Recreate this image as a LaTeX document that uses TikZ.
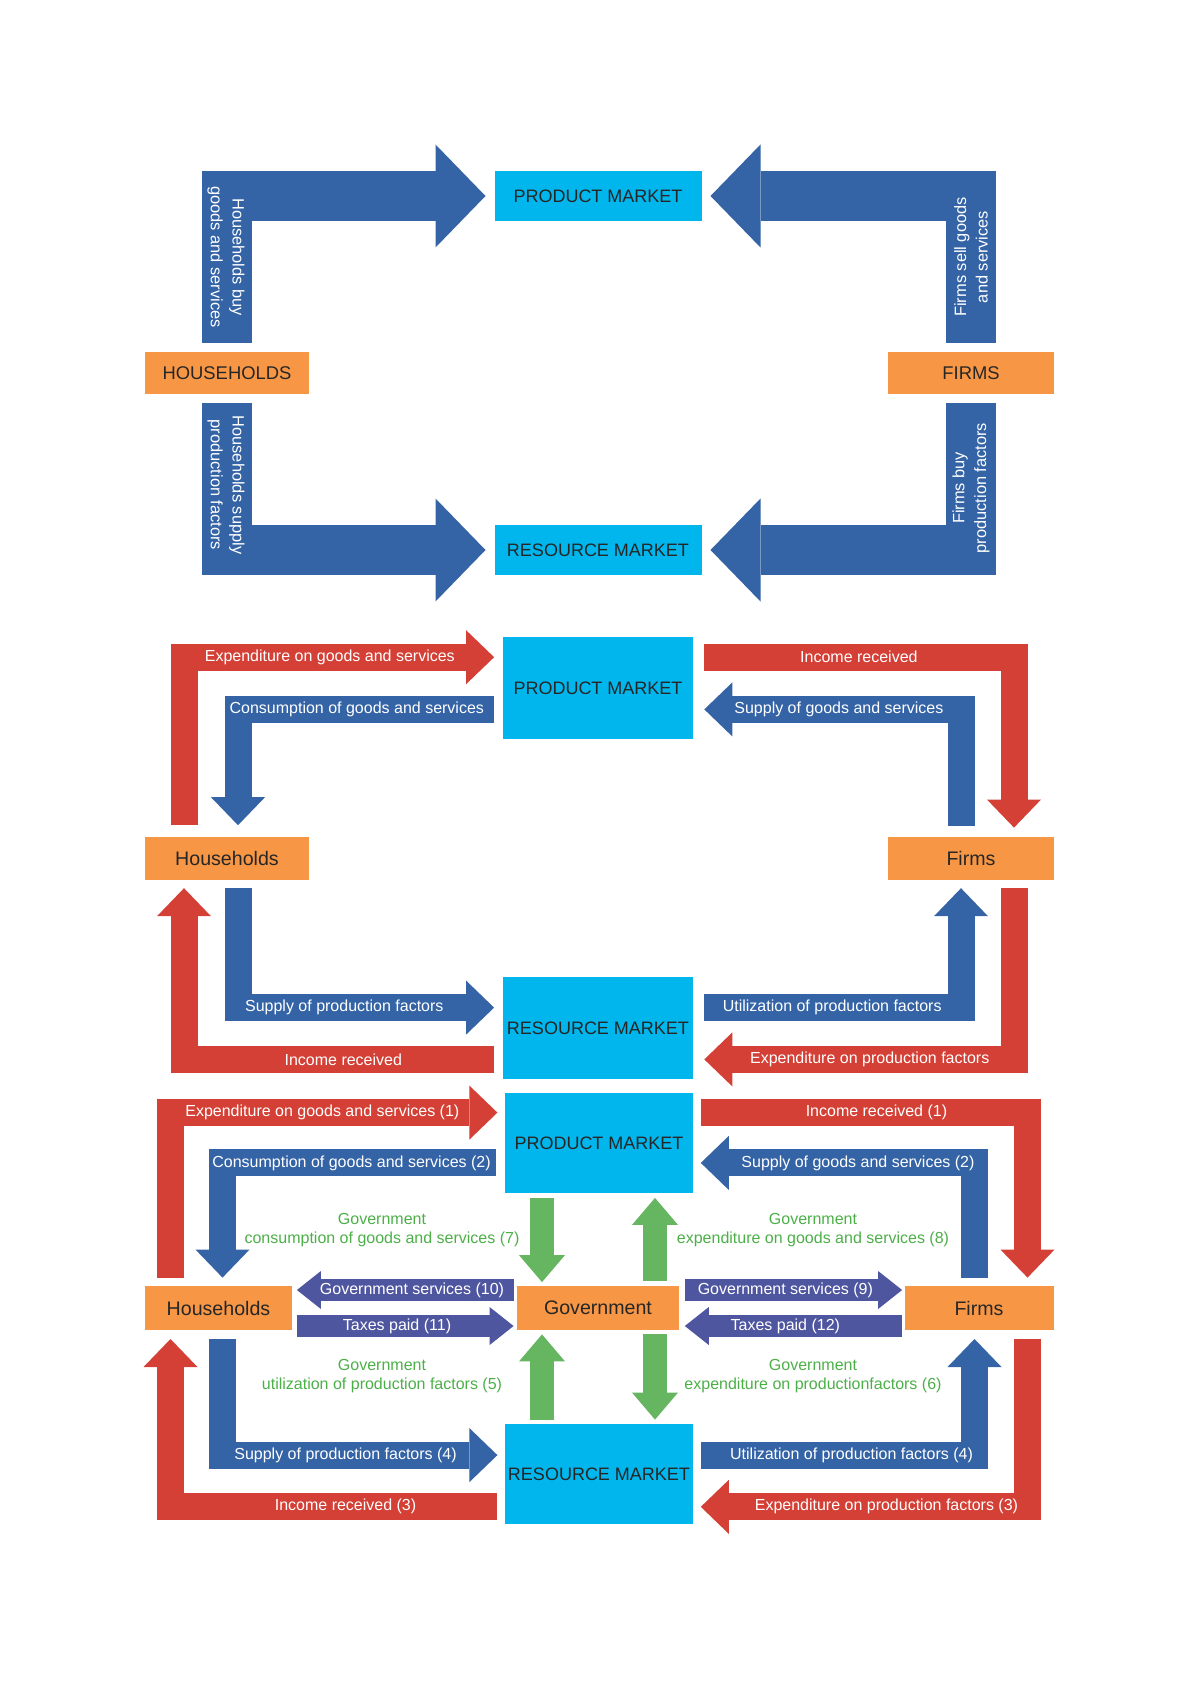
\documentclass[tikz,border=0pt]{standalone}
\usepackage{fontspec}
\setmainfont{Liberation Sans}
\usetikzlibrary{arrows.meta}
\definecolor{flowblue}{RGB}{52,99,166}
\definecolor{flowred}{RGB}{212,64,53}
\definecolor{flowgreen}{RGB}{102,181,96}
\definecolor{flowpurple}{RGB}{79,86,160}
\definecolor{agentorange}{RGB}{247,151,70}
\definecolor{marketcyan}{RGB}{0,182,236}
\definecolor{govtext}{RGB}{76,175,72}

\begin{document}
\begin{tikzpicture}[x=0.5pt, y=-0.5pt, line join=miter,
    market/.style={fill=marketcyan, inner sep=0pt, text=black!85,
                   font=\fontsize{9}{11}\selectfont},
    agent/.style={fill=agentorange, inner sep=0pt, text=black!85,
                  font=\fontsize{9.8}{12}\selectfont},
    bigflow/.style={draw=flowblue, line width=25pt,
                    -{Triangle[length=25pt,width=51.5pt,line width=0pt]}},
    flow/.style={line width=13.5pt,
                 -{Triangle[length=14pt,width=27pt,line width=0pt]}},
    redflow/.style={flow, draw=flowred},
    blueflow/.style={flow, draw=flowblue},
    govflow/.style={draw=flowgreen, line width=12pt,
                    -{Triangle[length=13.5pt,width=23pt,line width=0pt]}},
    taxflow/.style={draw=flowpurple, line width=11pt,
                    -{Triangle[length=12pt,width=19pt,line width=0pt]}},
    sidelabel/.style={text=white, align=center, inner sep=0pt,
                      font=\fontsize{8.2}{10.8}\selectfont},
    flowlabel/.style={text=white, inner sep=0pt, font=\fontsize{8}{9}\selectfont},
    govlabel/.style={text=govtext, align=center, inner sep=0pt,
                     font=\fontsize{8}{9.7}\selectfont},
  ]
  \useasboundingbox (0,0) rectangle (1200,1696);

  % Simple circular flow
  \node[market, minimum width=103.5pt, minimum height=25pt] (pm1) at (598,196) {PRODUCT MARKET};
  \node[market, minimum width=103.5pt, minimum height=25pt] (rm1) at (598,550) {RESOURCE MARKET};
  \node[agent, minimum width=82pt, minimum height=21pt, font=\fontsize{9.2}{11}\selectfont] (hh1) at (227,373) {HOUSEHOLDS};
  \node[agent, minimum width=83pt, minimum height=21pt, font=\fontsize{9.2}{11}\selectfont] (fi1) at (971,373) {FIRMS};

  \draw[bigflow, shorten <=4.3pt, shorten >=4.3pt] (hh1.north) |- (pm1.west);
  \draw[bigflow, shorten <=4.3pt, shorten >=4.3pt] (fi1.north) |- (pm1.east);
  \draw[bigflow, shorten <=4.3pt, shorten >=4.3pt] (hh1.south) |- (rm1.west);
  \draw[bigflow, shorten <=4.3pt, shorten >=4.3pt] (fi1.south) |- (rm1.east);

  \node[sidelabel, rotate=-90] (hhbuy) at (226,257) {Households buy\\goods and services};
  \node[sidelabel, rotate=90] (fisell) at (971,257) {Firms sell goods\\and services};
  \node[sidelabel, rotate=-90] (hhsupply) at (226,485) {Households supply\\production factors};
  \node[sidelabel, rotate=90] (fibuy) at (971,488) {Firms buy\\production factors};

  % Circular flow with money and goods
  \node[market, minimum width=95pt, minimum height=51pt] (pm2) at (598,688) {PRODUCT MARKET};
  \node[market, minimum width=95pt, minimum height=51pt] (rm2) at (598,1028) {RESOURCE MARKET};
  \node[agent, minimum width=82pt, minimum height=21.5pt] (hh2) at (227,858) {Households};
  \node[agent, minimum width=83pt, minimum height=21.5pt] (fi2) at (971,858) {Firms};

  \draw[redflow, shorten <=5.45pt, shorten >=4.25pt]
    ([xshift=-21.5pt]hh2.north) |- node[flowlabel, pos=0.75, xshift=-6.75pt] (lexp2)
    {Expenditure on goods and services} ([yshift=-10.3pt]pm2.north west);
  \draw[blueflow, shorten <=4.25pt, shorten >=5.45pt]
    ([yshift=15pt]pm2.south west) -| node[flowlabel, pos=0.25, xshift=-6.75pt] (lcon2)
    {Consumption of goods and services} ([xshift=5.5pt]hh2.north);
  \draw[redflow, shorten <=5.45pt, shorten >=4.25pt]
    ([yshift=-10.3pt]pm2.north east) -| node[flowlabel, pos=0.25, xshift=2.6pt] (linc2)
    {Income received} ([xshift=21.5pt]fi2.north);
  \draw[blueflow, shorten <=5.25pt, shorten >=5.45pt]
    ([xshift=-5pt]fi2.north) |- node[flowlabel, pos=0.75, xshift=5.85pt] (lsup2)
    {Supply of goods and services} ([yshift=15pt]pm2.south east);
  \draw[blueflow, shorten <=4.15pt, shorten >=4.25pt]
    ([xshift=5.5pt]hh2.south) |- node[flowlabel, pos=0.75, xshift=-13pt] (lfac2)
    {Supply of production factors} ([yshift=-15.5pt]rm2.north west);
  \draw[redflow, shorten <=4.25pt, shorten >=4.15pt]
    ([yshift=10pt]rm2.south west) -| node[flowlabel, pos=0.25] (lrec2)
    {Income received} ([xshift=-21.5pt]hh2.south);
  \draw[blueflow, shorten <=5.45pt, shorten >=4.15pt]
    ([yshift=-15.5pt]rm2.north east) -| node[flowlabel, pos=0.25, xshift=2.5pt] (luti2)
    {Utilization of production factors} ([xshift=-5pt]fi2.south);
  \draw[redflow, shorten <=4.15pt, shorten >=5.45pt]
    ([xshift=21.5pt]fi2.south) |- node[flowlabel, pos=0.75, xshift=8pt] (lpay2)
    {Expenditure on production factors} ([yshift=10pt]rm2.south east);

  % Circular flow with government
  \node[market, minimum width=94pt, minimum height=50pt] (pm3) at (599,1143) {PRODUCT MARKET};
  \node[market, minimum width=94pt, minimum height=50pt] (rm3) at (599,1474) {RESOURCE MARKET};
  \node[agent, minimum width=81pt, minimum height=22pt] (gov) at (598,1308) {Government};
  \node[agent, minimum width=73.5pt, minimum height=22pt] (hh3) at (218.5,1308) {Households};
  \node[agent, minimum width=74.5pt, minimum height=22pt] (fi3) at (979,1308) {Firms};

  \draw[redflow, shorten <=4pt, shorten >=3.6pt]
    ([xshift=-24pt]hh3.north) |- node[flowlabel, pos=0.75, xshift=-7.6pt] (lexp3)
    {Expenditure on goods and services (1)} ([yshift=-10pt]pm3.north west);
  \draw[blueflow, shorten <=4.15pt, shorten >=4pt]
    ([yshift=15.25pt]pm3.south west) -| node[flowlabel, pos=0.25, xshift=-6pt] (lcon3)
    {Consumption of goods and services (2)} ([xshift=2pt]hh3.north);
  \draw[redflow, shorten <=3.7pt, shorten >=4pt]
    ([yshift=-10pt]pm3.north east) -| node[flowlabel, pos=0.25, xshift=8pt] (linc3)
    {Income received (1)} ([xshift=24.25pt]fi3.north);
  \draw[blueflow, shorten <=4pt, shorten >=3.7pt]
    ([xshift=-2.25pt]fi3.north) |- node[flowlabel, pos=0.75, xshift=12pt] (lsup3)
    {Supply of goods and services (2)} ([yshift=15.25pt]pm3.south east);
  \draw[blueflow, shorten <=4.3pt, shorten >=3.6pt]
    ([xshift=2pt]hh3.south) |- node[flowlabel, pos=0.75, xshift=-9pt] (lfac3)
    {Supply of production factors (4)} ([yshift=-15.75pt]rm3.north west);
  \draw[redflow, shorten <=3.6pt, shorten >=4.3pt]
    ([yshift=8.8pt]rm3.south west) -| node[flowlabel, pos=0.25, xshift=4pt] (lrec3)
    {Income received (3)} ([xshift=-24pt]hh3.south);
  \draw[blueflow, shorten <=3.7pt, shorten >=4.3pt]
    ([yshift=-15.75pt]rm3.north east) -| node[flowlabel, pos=0.25, xshift=8.8pt] (luti3)
    {Utilization of production factors (4)} ([xshift=-2.25pt]fi3.south);
  \draw[redflow, shorten <=4.3pt, shorten >=3.7pt]
    ([xshift=24.25pt]fi3.south) |- node[flowlabel, pos=0.75, xshift=13pt] (lpay3)
    {Expenditure on production factors (3)} ([yshift=8.8pt]rm3.south east);

  \draw[govflow, shorten <=2.25pt, shorten >=1.75pt] ([xshift=-28.5pt]pm3.south) -- ([xshift=-28pt]gov.north);
  \draw[govflow, shorten <=2.25pt, shorten >=2.25pt] ([xshift=28.5pt]gov.north) -- ([xshift=28pt]pm3.south);
  \draw[govflow, shorten <=2pt, shorten >=2pt] ([xshift=-28.5pt]rm3.north) -- ([xshift=-28pt]gov.south);
  \draw[govflow, shorten <=2pt, shorten >=2pt] ([xshift=28.5pt]gov.south) -- ([xshift=28pt]rm3.north);

  \draw[taxflow, shorten <=1.5pt, shorten >=2.25pt] ([yshift=9pt]gov.west) --
    node[flowlabel, xshift=3.75pt] (lgs10) {Government services (10)} ([yshift=9pt]hh3.east);
  \draw[taxflow, shorten <=2.25pt, shorten >=1.5pt] ([yshift=-9pt]hh3.east) --
    node[flowlabel, xshift=-3.75pt] (ltp11) {Taxes paid (11)} ([yshift=-9pt]gov.west);
  \draw[taxflow, shorten <=2.7pt, shorten >=1pt] ([yshift=9pt]gov.east) --
    node[flowlabel, xshift=-3.2pt] (lgs9) {Government services (9)} ([yshift=9pt]fi3.west);
  \draw[taxflow, shorten <=1pt, shorten >=2.7pt] ([yshift=-9pt]fi3.west) --
    node[flowlabel, xshift=-3.2pt] (ltp12) {Taxes paid (12)} ([yshift=-9pt]gov.east);

  \node[govlabel] (gcons) at (382,1230) {Government\\consumption of goods and services (7)};
  \node[govlabel] (gexpg) at (813,1230) {Government\\expenditure on goods and services (8)};
  \node[govlabel] (guti) at (382,1376) {Government\\utilization of production factors (5)};
  \node[govlabel] (gexpf) at (813,1376) {Government\\expenditure on productionfactors (6)};
\end{tikzpicture}
\end{document}
